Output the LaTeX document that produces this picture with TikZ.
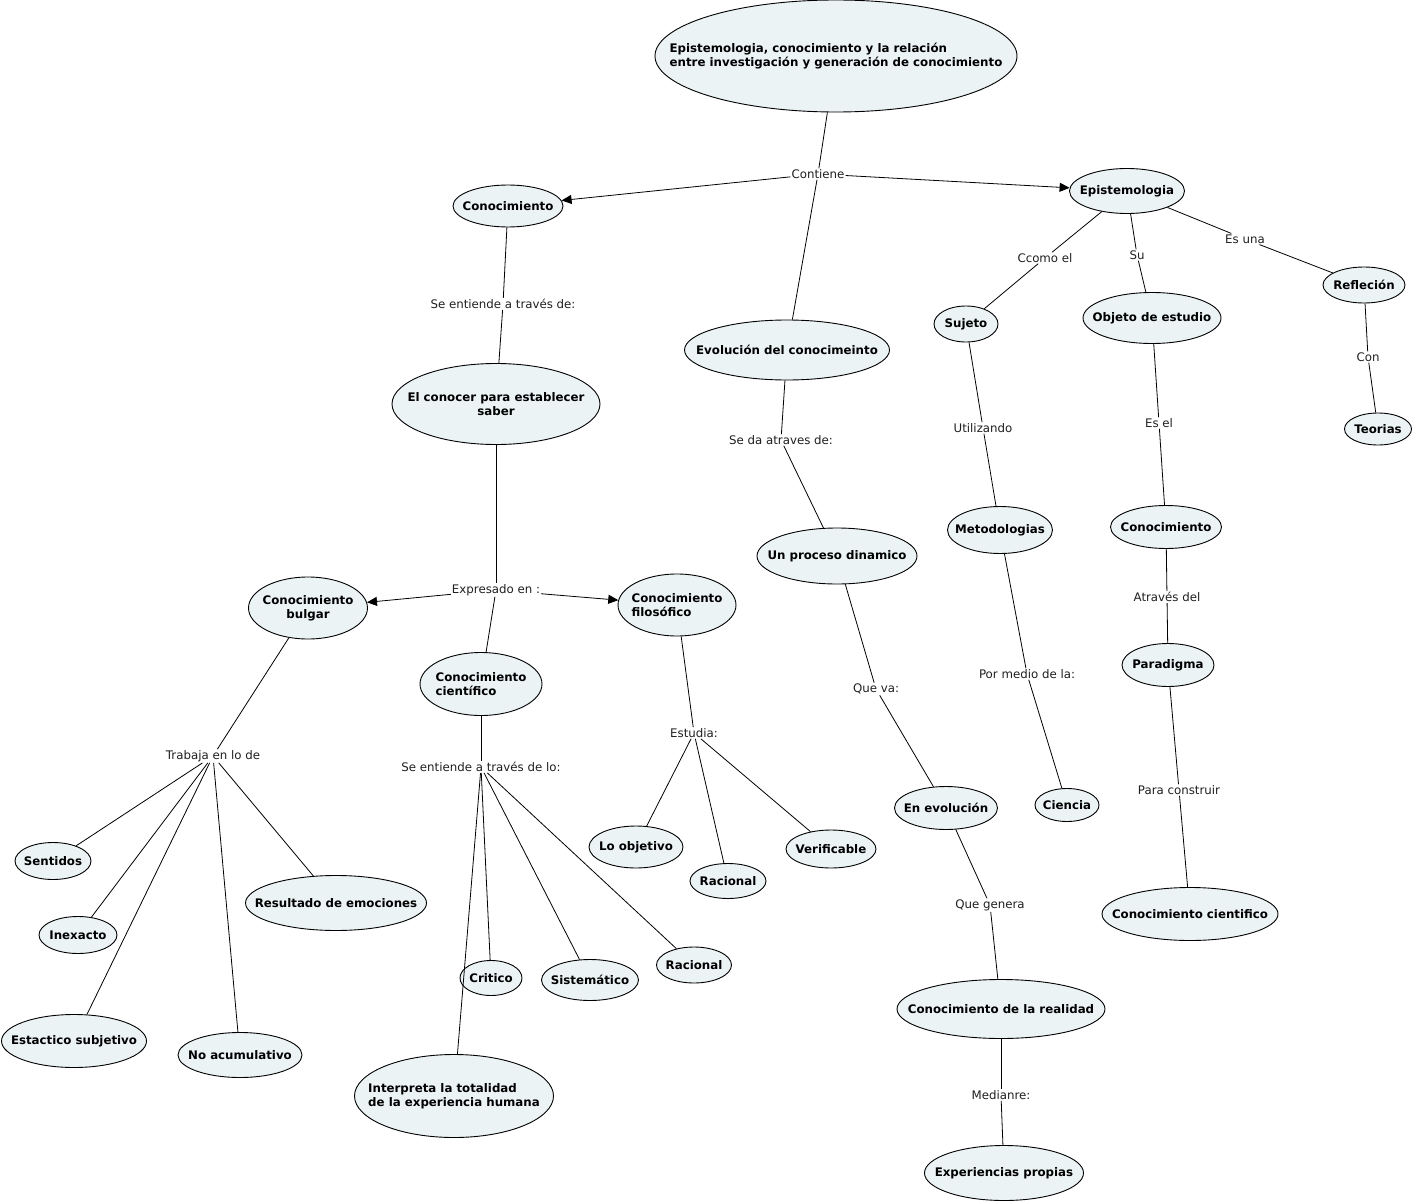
\documentclass[tikz,border=0pt]{standalone}
\usepackage{fontspec}
\setmainfont{DejaVu Sans}
\usetikzlibrary{shapes.geometric,arrows.meta}
\definecolor{nodefill}{RGB}{235,243,245}
\tikzset{
  ell/.style={ellipse, draw=black, line width=0.9pt, fill=nodefill, inner sep=0pt},
  ntext/.style={font=\bfseries\fontsize{11.8}{14}\selectfont, inner sep=0pt},
  lbl/.style={font=\fontsize{11.8}{14}\selectfont, inner sep=1pt, text=black!88},
  conn/.style={line width=0.8pt},
  arr/.style={conn, -{Triangle[length=10pt,width=9pt]}},
}
\newcommand{\cmapnode}[7]{%
  \node[ell, minimum width=#4pt, minimum height=#5pt] (#1) at (#2,#3) {};
  \node[ntext, align=#6] (#1t) at (#1.center) {#7};}
\begin{document}
\begin{tikzpicture}[x=1pt,y=-1pt]
\useasboundingbox (0,0) rectangle (1414,1204);
% concept nodes
\cmapnode{top}{836}{56}{362}{112}{left}{Epistemologia, conocimiento y la relación\\entre investigación y generación de conocimiento}
\cmapnode{kA}{508}{206}{110}{42}{center}{Conocimiento}
\cmapnode{epi}{1127}{191}{115}{45}{center}{Epistemologia}
\cmapnode{evo}{787}{350}{205}{60}{center}{Evolución del conocimeinto}
\cmapnode{conocer}{496}{404}{208}{81}{center}{El conocer para establecer\\saber}
\cmapnode{sujeto}{966}{324}{64}{36}{center}{Sujeto}
\cmapnode{objeto}{1152}{318}{138}{51}{center}{Objeto de estudio}
\cmapnode{reflex}{1364}{285}{82}{36}{center}{Refleción}
\cmapnode{teorias}{1378}{429}{67}{32}{center}{Teorias}
\cmapnode{proceso}{837}{556}{160}{56}{center}{Un proceso dinamico}
\cmapnode{metod}{1000}{530}{105}{47}{center}{Metodologias}
\cmapnode{kB}{1166}{527}{111}{43}{center}{Conocimiento}
\cmapnode{parad}{1168}{665}{92}{43}{center}{Paradigma}
\cmapnode{bulgar}{308}{608}{119}{62}{center}{Conocimiento\\bulgar}
\cmapnode{filo}{677}{605}{118}{62}{left}{Conocimiento\\filosófico}
\cmapnode{cient}{481}{684}{122}{63}{left}{Conocimiento\\científico}
\cmapnode{objetivo}{636}{847}{94}{42}{center}{Lo objetivo}
\cmapnode{racA}{728}{881}{76}{35}{center}{Racional}
\cmapnode{verif}{831}{849}{90}{38}{center}{Verificable}
\cmapnode{enevo}{946}{808}{103}{43}{center}{En evolución}
\cmapnode{ciencia}{1067}{805}{64}{33}{center}{Ciencia}
\cmapnode{kcientB}{1190}{914}{176}{53}{center}{Conocimiento cientifico}
\cmapnode{realidad}{1001}{1009}{208}{59}{center}{Conocimiento de la realidad}
\cmapnode{exper}{1004}{1173}{159}{55}{center}{Experiencias propias}
\cmapnode{sentidos}{53}{861}{76}{37}{center}{Sentidos}
\cmapnode{inexacto}{78}{935}{78}{37}{center}{Inexacto}
\cmapnode{resultado}{336}{903}{181}{55}{center}{Resultado de emociones}
\cmapnode{estatico}{74}{1041}{145}{53}{center}{Estactico subjetivo}
\cmapnode{noacum}{240}{1055}{124}{45}{center}{No acumulativo}
\cmapnode{critico}{491}{978}{62}{35}{center}{Critico}
\cmapnode{sistem}{590}{980}{97}{41}{center}{Sistemático}
\cmapnode{racB}{694}{965}{75}{36}{center}{Racional}
\cmapnode{interp}{454}{1096}{199}{83}{left}{Interpreta la totalidad\\de la experiencia humana}
% linking phrases
\node[lbl] (lContiene) at (818,174) {Contiene};
\node[lbl] (lSeEnt) at (503,304) {Se entiende a través de:};
\node[lbl] (lExpr) at (496,590) {Expresado en :};
\node[lbl] (lTrab) at (213,756) {Trabaja en lo de};
\node[lbl] (lSeEntLo) at (481,767) {Se entiende a través de lo:};
\node[lbl] (lEstudia) at (694,733) {Estudia:};
\node[lbl] (lSeDa) at (781,440) {Se da atraves de:};
\node[lbl] (lQueVa) at (876,689) {Que va:};
\node[lbl] (lQueGen) at (990,905) {Que genera};
\node[lbl] (lMedi) at (1001,1095) {Medianre:};
\node[lbl] (lComo) at (1045,258) {Ccomo el};
\node[lbl] (lSu) at (1137,255) {Su};
\node[lbl] (lEsUna) at (1245,239) {Es una};
\node[lbl] (lUtil) at (983,428) {Utilizando};
\node[lbl] (lEsEl) at (1159,423) {Es el};
\node[lbl] (lCon) at (1368,357) {Con};
\node[lbl] (lAtrav) at (1167,597) {Através del};
\node[lbl] (lPorMed) at (1027,674) {Por medio de la:};
\node[lbl] (lPara) at (1179,790) {Para construir};
% connectors
\draw[conn] (top) -- (lContiene);
\draw[arr] (lContiene) -- (kA);
\draw[arr] (lContiene) -- (epi);
\draw[conn] (lContiene) -- (evo);
\draw[conn] (kA) -- (lSeEnt);
\draw[conn] (lSeEnt) -- (conocer);
\draw[conn] (conocer) -- (lExpr);
\draw[arr] (lExpr) -- (bulgar);
\draw[arr] (lExpr) -- (filo);
\draw[conn] (lExpr) -- (cient);
\draw[conn] (bulgar) -- (lTrab);
\draw[conn] (lTrab) -- (sentidos);
\draw[conn] (lTrab) -- (inexacto);
\draw[conn] (lTrab) -- (estatico);
\draw[conn] (lTrab) -- (noacum);
\draw[conn] (lTrab) -- (resultado);
\draw[conn] (cient) -- (lSeEntLo);
\draw[conn] (lSeEntLo) -- (interp);
\draw[conn] (lSeEntLo) -- (critico);
\draw[conn] (lSeEntLo) -- (sistem);
\draw[conn] (lSeEntLo) -- (racB);
\draw[conn] (filo) -- (lEstudia);
\draw[conn] (lEstudia) -- (objetivo);
\draw[conn] (lEstudia) -- (racA);
\draw[conn] (lEstudia) -- (verif);
\draw[conn] (evo) -- (lSeDa);
\draw[conn] (lSeDa) -- (proceso);
\draw[conn] (proceso) -- (lQueVa);
\draw[conn] (lQueVa) -- (enevo);
\draw[conn] (enevo) -- (lQueGen);
\draw[conn] (lQueGen) -- (realidad);
\draw[conn] (realidad) -- (lMedi);
\draw[conn] (lMedi) -- (exper);
\draw[conn] (epi) -- (lComo);
\draw[conn] (lComo) -- (sujeto);
\draw[conn] (sujeto) -- (lUtil);
\draw[conn] (lUtil) -- (metod);
\draw[conn] (metod) -- (lPorMed);
\draw[conn] (lPorMed) -- (ciencia);
\draw[conn] (epi) -- (lSu);
\draw[conn] (lSu) -- (objeto);
\draw[conn] (objeto) -- (lEsEl);
\draw[conn] (lEsEl) -- (kB);
\draw[conn] (kB) -- (lAtrav);
\draw[conn] (lAtrav) -- (parad);
\draw[conn] (parad) -- (lPara);
\draw[conn] (lPara) -- (kcientB);
\draw[conn] (epi) -- (lEsUna);
\draw[conn] (lEsUna) -- (reflex);
\draw[conn] (reflex) -- (lCon);
\draw[conn] (lCon) -- (teorias);
\end{tikzpicture}
\end{document}
